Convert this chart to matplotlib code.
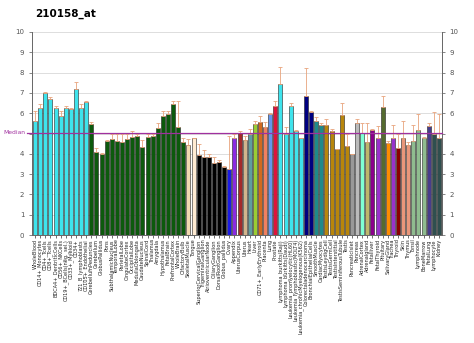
import matplotlib
matplotlib.use("Agg")
import matplotlib.pyplot as plt
from matplotlib.lines import Line2D

# === data ===
tissues = [
    "WholeBlood", "CD14+_Monocytes", "CD4+_Tcells", "CD8+_Tcells", "BDCA4+_DentriticCells",
    "CD56+_NKCells", "CD19+_BCells(neg._sel.)", "CD33+_Myeloid", "CD34+", "721_B_lymphoblasts",
    "CD105+_Endothelial",
    "CerebellumPeduncles", "Cerebellum", "GlobusPallidus", "Pons", "SubthalamicNucleus",
    "TemporalLobe", "ParietalLobe", "CingulateCortex", "OccipitalLobe", "MedullaOblongata",
    "CaudateNucleus", "SpinalCord", "Thalamus", "Amygdala", "Hypothalamus", "FetalBrain",
    "PrefrontalCortex", "WholeBrain", "OlfactoryBulb",
    "SkeletalMuscle", "Tongue",
    "SuperiorCervicalGanglion", "TrigeminalGanglion", "AtrioventricularNode",
    "CiliaryGanglion", "DorsalRootGanglion", "Globus_pallidus",
    "Ovary",
    "Appendix", "UterusCorpus", "Uterus", "Heart", "Liver", "CD71+_EarlyErythroid",
    "Placenta", "Lung", "Prostate",
    "Lymphoma_burkitts(Raji)", "Lymphoma_burkitts(Daudi)", "Leukemia_promyelocytic(HL60)",
    "Leukemia_lymphoblastic(MOLT4)", "Leukemia_chronicMyelogenous(K562)",
    "Colorectaladenocarcinoma", "BronchialEpithelialCells",
    "SmoothMuscle", "CardiacMyocytes",
    "TestisLeydigCell", "TestisGermCell", "TestisInterstitial", "TestisSeminiferousTubule",
    "Testis",
    "PancreaticIslet", "Pancreas",
    "AdrenalCortex", "Adrenalgland",
    "Fetalliver", "FetalThyroid", "Pituitary",
    "SalivaryGland", "Trachea", "Thyroid",
    "Skin", "Thymus",
    "Tonsil", "Lymphnode", "BoneMarrow",
    "FetalLung", "Lymphocyte", "Kidney",
]

values = [
    5.6, 6.25, 7.0, 6.7, 6.25, 5.85, 6.25, 6.2, 7.2, 6.25, 6.55,
    5.45, 4.1, 4.0, 4.65, 4.75, 4.65, 4.6, 4.75, 4.85, 4.9, 4.35, 4.85, 4.88,
    5.25, 5.88, 5.94, 6.45, 5.34, 4.6,
    4.43, 4.76,
    3.94, 3.86, 3.86, 3.53, 3.61, 3.37,
    3.27,
    4.79, 5.04, 4.68, 5.0, 5.45, 5.58, 5.34, 5.94, 6.37,
    7.44, 5.0, 6.35, 5.12, 4.76,
    6.84, 6.06,
    5.6, 5.4,
    5.4, 5.1, 4.24, 5.93, 4.4,
    3.97, 5.51,
    5.02, 4.6,
    5.15, 4.77,
    6.29, 4.55, 4.8, 4.3,
    4.8, 4.45,
    4.65, 5.15, 4.8,
    5.35, 5.0, 4.8,
]

err_tops = [
    6.1, 6.45, 7.05, 6.8, 6.35, 6.1, 6.35, 6.25, 7.55, 6.45, 6.6,
    5.55, 4.3, 4.05, 4.7, 5.0, 5.0, 5.0, 5.0, 5.1, 5.0, 4.7, 5.0, 5.0,
    5.5, 6.1, 6.1, 6.6, 6.6, 4.8,
    4.75, 4.8,
    4.5, 4.2, 4.0, 3.85, 3.7, 3.4,
    4.9,
    5.0, 5.1, 4.9, 5.2, 5.6, 5.85, 5.55, 6.0, 6.6,
    8.3, 5.3, 6.5, 5.15, 4.8,
    8.25, 6.1,
    5.8, 5.5,
    5.7, 5.2, 4.25, 6.5, 5.0,
    4.0, 5.7,
    5.5, 5.5,
    5.2, 5.35,
    6.85, 4.65, 5.4, 5.0,
    5.6, 4.6,
    5.4, 5.95, 4.85,
    5.5, 6.05, 5.95,
]

colors = (
    ["#3EE3EC"] * 11 + ["#0C5A0C"] * 19 + ["#F3D9B0", "#FFEBD2"] + ["#000000"] * 6
    + ["#1A1AE6"]
    + ["#8A2BE2", "#A52A2A", "#D2B48C", "#5F9EA0", "#9ACD32", "#D2691E", "#F08060",
       "#6495ED", "#DC143C"]
    + ["#3EE3EC"] * 5 + ["#000080"] * 2 + ["#1F8A8A"] * 2 + ["#B8860B"] * 5
    + ["#999999", "#BBBBBB"] + ["#7FFFD4", "#BDB76B"] + ["#8B008B", "#9932CC"]
    + ["#556B2F", "#FF8C00", "#9932CC", "#8B0000"] + ["#E9967A"] * 2
    + ["#8FBC8F"] * 3 + ["#483D8B"] + ["#2F4F4F"] * 2
)

median = 5.03

W, H = 474, 343
fig = plt.figure(figsize=(W / 100, H / 100), dpi=100)
ax = fig.add_axes([32 / W, 1 - 235 / H, 410 / W, 203 / H])

x = range(len(values))
lower = [0] * len(values)
upper = [t - v for t, v in zip(err_tops, values)]
ax.bar(x, values, width=0.78, color=colors, edgecolor="#222222", linewidth=0.4, zorder=3)
ax.errorbar(x, values, yerr=[lower, upper], fmt="none", ecolor="#E8A47C",
            elinewidth=0.6, capsize=1.2, capthick=0.6, zorder=4)

ax.set_xlim(-0.6, len(values) - 0.4)
ax.set_ylim(0, 10)
ax.set_yticks(range(0, 11))
ax.yaxis.grid(True, color="#D8D8D8", linewidth=0.6, zorder=0)
ax.tick_params(axis="y", labelsize=5, colors="#555555", length=2, width=0.5,
               right=True, labelright=True)
# the left "5" label gives way to the Median tag
for lbl in ax.get_yticklabels():
    if lbl.get_text() == "5":
        lbl.set_visible(False)
ax.set_xticks(list(x))
ax.set_xticklabels(tissues, rotation=90, fontsize=3.6, color="#222222")
ax.tick_params(axis="x", length=2, width=0.4, pad=1)
ax.spines["top"].set_visible(False)
for s in ("left", "right", "bottom"):
    ax.spines[s].set_color("#666666")
    ax.spines[s].set_linewidth(0.7)

# median line runs out past the left axis with its label
ym = 1 - (235 - median * 20.3) / H
fig.add_artist(Line2D([27 / W, 442 / W], [ym, ym], color="#A0309F", linewidth=0.9,
                      zorder=5))
fig.text(3 / W, ym, "Median", color="#A0309F", fontsize=4.3, va="center", ha="left")

fig.text(35 / W, 1 - 14 / H, "210158_at", fontsize=7.5, fontweight="bold",
         va="center", ha="left")

fig.savefig("out.png", dpi=100)
